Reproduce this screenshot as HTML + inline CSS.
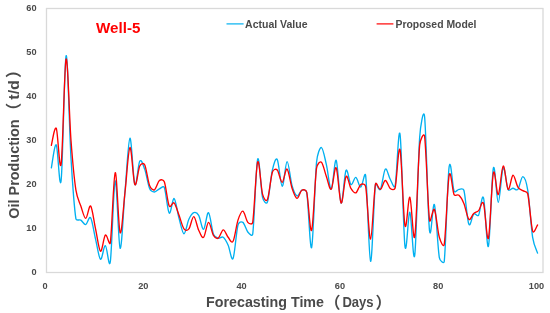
<!DOCTYPE html>
<html><head><meta charset="utf-8"><title>Well-5</title>
<style>
html,body{margin:0;padding:0;background:#fff;}
body{width:550px;height:313px;overflow:hidden;}
svg{display:block;font-family:"Liberation Sans","Noto Sans CJK SC",sans-serif;font-weight:bold;}
</style></head><body>
<svg width="550" height="313" viewBox="0 0 550 313">
<rect x="0" y="0" width="550" height="313" fill="#fff"/>
<rect x="46.5" y="8.5" width="496.5" height="264" fill="none" stroke="#d9d9d9" stroke-width="1.3"/>
<path d="M51.36 167.78C52.18 163.97 54.64 142.88 56.27 144.90C57.91 146.92 59.55 194.73 61.18 179.88C62.82 165.03 64.46 59.43 66.09 55.80C67.73 52.17 69.37 130.93 71.00 158.10C72.64 185.27 74.28 208.48 75.92 218.82C76.31 221.33 79.19 219.19 80.83 220.14C82.46 221.09 84.10 224.91 85.74 224.54C87.38 224.17 89.01 215.52 90.65 217.94C92.29 220.36 93.92 232.17 95.56 239.06C97.20 245.95 98.83 258.20 100.47 259.30C102.11 260.40 103.75 245.22 105.38 245.66C107.02 246.10 109.02 270.35 110.29 261.94C111.93 251.16 113.57 183.25 115.20 180.98C116.84 178.71 118.48 246.61 120.11 248.30C121.75 249.99 123.39 209.43 125.03 191.10C126.66 172.77 128.30 139.40 129.94 138.30C131.57 137.20 133.21 180.69 134.85 184.50C136.49 188.31 138.12 163.75 139.76 161.18C141.40 158.61 143.09 164.72 144.67 169.10C146.31 173.65 147.94 184.65 149.58 188.46C150.77 191.24 152.85 191.91 154.49 191.98C156.13 192.05 157.77 189.63 159.40 188.90C161.04 188.17 163.36 185.22 164.31 187.58C165.95 191.61 167.59 211.27 169.22 213.10C170.86 214.93 172.50 197.70 174.14 198.58C175.77 199.46 177.41 212.51 179.05 218.38C180.68 224.25 182.32 233.63 183.96 233.78C185.59 233.93 187.23 222.78 188.87 219.26C190.51 215.74 192.14 213.32 193.78 212.66C195.42 212.00 197.28 212.90 198.69 215.30C200.33 218.09 201.96 229.82 203.60 229.38C205.24 228.94 206.88 211.85 208.51 212.66C210.15 213.47 211.79 229.97 213.42 234.22C214.56 237.16 216.70 237.67 218.33 238.18C219.97 238.69 221.61 236.13 223.25 237.30C224.88 238.47 226.52 241.70 228.16 245.22C229.79 248.74 231.43 261.79 233.07 258.42C234.70 255.05 236.34 230.99 237.98 224.98C238.71 222.29 241.25 221.17 242.89 222.34C244.53 223.51 246.16 230.04 247.80 232.02C249.44 234.00 252.35 236.89 252.71 234.22C254.35 222.12 255.99 165.58 257.62 159.42C259.26 153.26 260.90 190.15 262.53 197.26C263.31 200.62 266.27 205.34 267.44 202.10C269.08 197.59 270.72 177.29 272.36 170.20C273.67 164.49 275.63 156.88 277.27 159.55C278.90 162.23 280.54 185.92 282.18 186.26C283.81 186.60 285.45 161.77 287.09 161.62C288.73 161.47 290.36 179.66 292.00 185.38C293.60 190.98 295.27 195.13 296.91 195.94C298.55 196.75 300.19 190.81 301.82 190.22C303.46 189.63 306.28 189.77 306.73 192.42C308.37 201.95 310.01 252.48 311.64 247.42C313.28 242.36 314.92 178.71 316.55 162.06C317.31 154.43 319.83 147.10 321.47 147.54C323.10 147.98 324.74 157.77 326.38 164.70C328.01 171.63 329.65 189.85 331.29 189.12C332.92 188.39 334.56 157.99 336.20 160.30C337.84 162.61 339.47 201.29 341.11 202.98C342.75 204.67 344.38 173.50 346.02 170.42C347.66 167.34 349.29 183.33 350.93 184.50C352.57 185.67 354.21 177.02 355.84 177.46C357.48 177.90 359.12 187.43 360.75 187.14C362.39 186.85 364.85 169.53 365.66 175.70C367.30 188.06 368.94 259.89 370.58 261.28C372.21 262.67 373.85 196.05 375.49 184.06C375.97 180.49 378.76 191.83 380.40 189.34C382.03 186.85 383.67 170.79 385.31 169.10C386.95 167.41 388.58 176.43 390.22 179.22C391.86 182.01 394.25 189.84 395.13 185.82C396.77 178.34 398.40 124.29 400.04 134.34C401.68 144.39 403.32 233.12 404.95 246.10C406.59 259.08 408.23 210.75 409.86 212.22C411.50 213.69 413.14 267.44 414.77 254.90C416.41 242.36 418.05 160.01 419.69 136.98C420.42 126.59 423.51 106.38 424.60 116.74C426.23 132.36 427.87 216.03 429.51 230.70C430.97 243.83 432.78 200.27 434.42 204.74C436.06 209.21 437.69 248.08 439.33 257.54C439.87 260.65 443.90 264.64 444.24 261.50C445.88 246.36 447.51 178.41 449.15 166.68C450.79 154.95 452.43 187.32 454.06 191.10C455.10 193.49 457.34 189.49 458.97 189.34C460.61 189.19 463.21 187.82 463.88 190.22C465.52 196.01 467.16 220.14 468.80 224.10C470.43 228.06 472.07 215.48 473.71 213.98C475.34 212.48 477.31 217.23 478.62 215.08C480.25 212.40 481.89 192.73 483.53 197.92C485.17 203.11 486.80 251.18 488.44 246.23C490.08 241.28 491.71 175.54 493.35 168.22C494.99 160.90 496.62 202.39 498.26 202.32C499.90 202.25 501.54 169.94 503.17 167.78C504.81 165.62 506.45 185.93 508.08 189.34C509.17 191.61 511.36 188.24 513.00 188.24C514.63 188.24 516.28 191.26 517.91 189.34C519.54 187.40 521.18 176.43 522.82 176.58C524.45 176.73 526.57 183.06 527.73 190.22C529.37 200.34 531.00 226.81 532.64 237.30C533.92 245.49 536.73 250.50 537.55 253.14" fill="none" stroke="#00b0f0" stroke-width="1.35" stroke-linejoin="round" stroke-linecap="round"/>
<path d="M51.36 145.34C52.18 142.52 54.64 125.36 56.27 128.40C57.91 131.44 59.55 175.15 61.18 163.60C62.82 152.05 64.46 62.95 66.09 59.10C67.73 55.25 69.37 118.65 71.00 140.50C72.64 162.35 74.28 179.29 75.92 190.22C77.14 198.42 79.19 201.37 80.83 206.06C82.46 210.75 84.10 218.38 85.74 218.38C87.38 218.38 89.01 204.30 90.65 206.06C92.29 207.82 93.92 221.42 95.56 228.94C97.20 236.46 98.83 250.18 100.47 251.20C102.11 252.23 103.75 236.50 105.38 235.10C107.02 233.70 109.58 247.31 110.29 242.80C111.93 232.39 113.57 174.31 115.20 172.62C116.84 170.93 118.48 229.45 120.11 232.68C121.75 235.91 123.39 206.17 125.03 191.98C126.66 177.79 128.30 148.79 129.94 147.54C131.57 146.29 133.21 181.42 134.85 184.50C136.49 187.58 138.12 169.32 139.76 166.02C140.89 163.74 143.52 162.43 144.67 164.70C146.31 167.93 147.94 181.20 149.58 185.38C150.78 188.45 152.85 190.59 154.49 189.78C156.13 188.97 157.77 181.86 159.40 180.54C161.04 179.22 163.40 179.49 164.31 181.86C165.95 186.11 167.59 202.54 169.22 206.06C170.45 208.69 172.50 201.44 174.14 202.98C175.77 204.52 177.41 210.97 179.05 215.30C180.68 219.63 182.32 226.67 183.96 228.94C185.39 230.93 187.34 230.86 188.87 228.94C190.51 226.89 192.14 216.40 193.78 216.62C195.42 216.84 197.05 226.81 198.69 230.26C200.33 233.71 201.96 238.62 203.60 237.30C205.24 235.98 206.88 222.67 208.51 222.34C210.15 222.01 211.79 232.68 213.42 235.32C214.92 237.73 216.70 239.10 218.33 238.18C219.97 237.26 221.61 229.97 223.25 229.82C224.88 229.67 226.52 235.39 228.16 237.30C229.79 239.21 231.50 244.00 233.07 241.26C234.70 238.40 236.34 225.17 237.98 220.14C239.57 215.24 241.25 210.71 242.89 211.08C244.53 211.44 246.16 220.46 247.80 222.34C249.41 224.19 252.32 224.76 252.71 222.34C254.35 212.29 255.99 166.75 257.62 162.06C259.26 157.37 260.90 187.95 262.53 194.18C263.45 197.67 265.98 202.75 267.44 199.46C269.08 195.79 270.72 177.09 272.36 172.18C273.21 169.63 275.63 168.29 277.27 169.98C278.90 171.67 280.54 182.45 282.18 182.30C283.81 182.15 285.45 168.15 287.09 169.10C288.73 170.05 290.36 183.14 292.00 188.02C293.64 192.90 295.27 197.99 296.91 198.36C298.55 198.73 300.19 191.21 301.82 190.22C303.46 189.23 306.09 189.81 306.73 192.42C308.37 199.09 310.01 234.29 311.64 230.26C313.28 226.23 314.92 179.56 316.55 168.22C317.11 164.37 319.83 160.80 321.47 162.19C323.10 163.59 324.74 172.09 326.38 176.58C328.01 181.07 329.65 190.59 331.29 189.12C332.92 187.65 334.56 165.47 336.20 167.78C337.84 170.09 339.47 201.51 341.11 202.98C342.75 204.45 344.38 179.00 346.02 176.58C347.66 174.16 349.29 185.75 350.93 188.46C352.57 191.17 354.21 193.52 355.84 192.86C357.48 192.20 359.12 185.53 360.75 184.50C362.39 183.47 365.19 184.05 365.66 186.70C367.30 195.79 368.94 239.50 370.58 239.06C372.21 238.62 373.85 192.35 375.49 184.06C376.19 180.52 378.76 189.93 380.40 189.34C382.03 188.75 383.67 180.69 385.31 180.54C386.95 180.39 388.58 187.21 390.22 188.46C391.86 189.71 394.52 190.41 395.13 188.02C396.77 181.57 398.40 143.51 400.04 149.74C401.68 155.97 403.32 217.50 404.95 225.42C406.59 233.34 408.23 195.43 409.86 197.26C411.50 199.09 413.14 245.15 414.77 236.42C416.41 227.69 418.05 161.58 419.69 144.90C420.17 139.98 423.96 131.42 424.60 136.32C426.23 148.86 427.87 207.93 429.51 220.14C430.28 225.91 432.78 206.72 434.42 209.58C436.06 212.44 437.69 231.51 439.33 237.30C440.50 241.43 443.57 248.58 444.24 244.34C445.88 234.04 447.51 183.77 449.15 175.48C450.79 167.19 452.43 191.32 454.06 194.62C455.16 196.84 457.34 193.81 458.97 195.28C460.61 196.75 462.25 199.42 463.88 203.42C465.52 207.42 467.16 217.57 468.80 219.26C470.43 220.95 472.07 214.98 473.71 213.54C475.34 212.10 476.98 212.32 478.62 210.64C480.25 208.95 482.06 199.31 483.53 203.42C485.17 208.01 486.80 243.24 488.44 238.18C490.08 233.12 491.71 180.32 493.35 173.06C494.99 165.80 496.62 195.79 498.26 194.62C499.90 193.45 501.54 166.90 503.17 166.02C504.81 165.14 506.45 187.80 508.08 189.34C509.72 190.88 511.36 175.63 513.00 175.26C514.63 174.89 516.27 184.57 517.91 187.14C519.53 189.69 521.18 189.56 522.82 190.66C524.45 191.76 527.04 190.92 527.73 193.74C529.37 200.49 531.00 225.93 532.64 231.14C533.82 234.90 536.73 226.01 537.55 224.98" fill="none" stroke="#ff0000" stroke-width="1.35" stroke-linejoin="round" stroke-linecap="round"/>
<text x="36.6" y="275.2" text-anchor="end" font-size="9.2" fill="#4a4a4a">0</text>
<text x="36.6" y="231.2" text-anchor="end" font-size="9.2" fill="#4a4a4a">10</text>
<text x="36.6" y="187.2" text-anchor="end" font-size="9.2" fill="#4a4a4a">20</text>
<text x="36.6" y="143.2" text-anchor="end" font-size="9.2" fill="#4a4a4a">30</text>
<text x="36.6" y="99.2" text-anchor="end" font-size="9.2" fill="#4a4a4a">40</text>
<text x="36.6" y="55.2" text-anchor="end" font-size="9.2" fill="#4a4a4a">50</text>
<text x="36.6" y="11.2" text-anchor="end" font-size="9.2" fill="#4a4a4a">60</text>
<text x="45.0" y="289.4" text-anchor="middle" font-size="9.2" fill="#4a4a4a">0</text>
<text x="143.3" y="289.4" text-anchor="middle" font-size="9.2" fill="#4a4a4a">20</text>
<text x="241.6" y="289.4" text-anchor="middle" font-size="9.2" fill="#4a4a4a">40</text>
<text x="339.9" y="289.4" text-anchor="middle" font-size="9.2" fill="#4a4a4a">60</text>
<text x="438.2" y="289.4" text-anchor="middle" font-size="9.2" fill="#4a4a4a">80</text>
<text x="536.5" y="289.4" text-anchor="middle" font-size="9.2" fill="#4a4a4a">100</text>
<text x="96.1" y="32.6" font-size="14.6" fill="#ff0000" textLength="44.3" lengthAdjust="spacingAndGlyphs">Well-5</text>
<line x1="226.5" y1="23.9" x2="243.6" y2="23.9" stroke="#00b0f0" stroke-width="1.2"/>
<text x="245.1" y="27.9" font-size="10.4" fill="#4a4a4a" textLength="62.4" lengthAdjust="spacingAndGlyphs">Actual Value</text>
<line x1="376.6" y1="23.9" x2="393.4" y2="23.9" stroke="#ff0000" stroke-width="1.2"/>
<text x="395.5" y="27.9" font-size="10.4" fill="#4a4a4a" textLength="81" lengthAdjust="spacingAndGlyphs">Proposed Model</text>
<text x="206.0" y="307" font-size="14.2" fill="#4a4a4a" textLength="118" lengthAdjust="spacingAndGlyphs">Forecasting Time</text>
<text x="324.6" y="307.6" font-size="16" fill="#4a4a4a">（</text>
<text x="342.4" y="307" font-size="14.2" fill="#4a4a4a" textLength="31.2" lengthAdjust="spacingAndGlyphs">Days</text>
<text x="375.6" y="307.6" font-size="16" fill="#4a4a4a">）</text>
<g transform="translate(19.1,218.7) rotate(-90)">
<text x="0" y="0" font-size="14.2" fill="#4a4a4a" textLength="99.3" lengthAdjust="spacingAndGlyphs">Oil Production</text>
<text x="100" y="-0.3" font-size="16" fill="#4a4a4a">（</text>
<text x="119" y="0" font-size="14.2" fill="#4a4a4a" textLength="19.6" lengthAdjust="spacingAndGlyphs">t/d</text>
<text x="140.8" y="-0.3" font-size="16" fill="#4a4a4a">）</text>
</g>
</svg>
</body></html>
